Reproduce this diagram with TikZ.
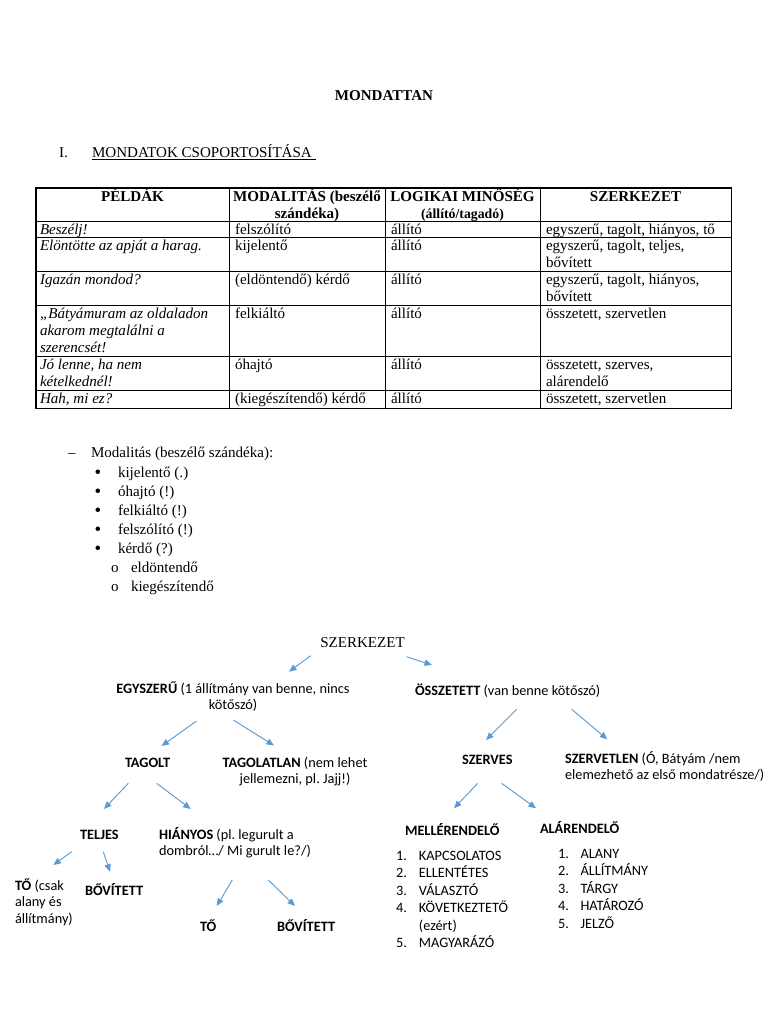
\documentclass[tikz,border=0pt]{standalone}
\usepackage{fontspec}
\setmainfont{Liberation Serif}
\newfontfamily\calfont{Carlito}
\usetikzlibrary{arrows.meta}
\definecolor{arrowblue}{RGB}{91,155,213}
\frenchspacing
\begin{document}
\frenchspacing
\begin{tikzpicture}[x=0.796875pt,y=-0.796875pt,
  tx/.style={inner sep=0pt,outer sep=0pt,anchor=base west},
  txc/.style={inner sep=0pt,outer sep=0pt,anchor=base},
  ser/.style={font=\fontsize{12}{13.8}\selectfont\frenchspacing},
  serit/.style={font=\fontsize{12}{13.8}\selectfont\itshape\frenchspacing},
  cal/.style={font=\calfont\fontsize{11.4}{13.5}\selectfont\frenchspacing},
  callist/.style={font=\calfont\fontsize{11.4}{14}\selectfont},
  calml/.style={cal,text width=260,align=flush left},
  sermlc/.style={ser,text width=200,align=flush center},
  sermll/.style={ser,text width=185,align=flush left},
  bulletmark/.style={inner sep=0pt,outer sep=0pt,anchor=base,font=\fontsize{15}{15}\selectfont},
  arr/.style={draw=arrowblue,line width=0.75pt,-{Triangle[length=6pt,width=5pt]}},
  grid/.style={draw=black,line width=0.8pt}]
\fill[white] (0,0) rectangle (768,1024);
\useasboundingbox (0,0) rectangle (768,1024);

% Title and heading
\node[txc,ser] (title) at (384,100.5) {\textbf{MONDATTAN}};
\node[tx,ser] (secnum) at (59,157.5) {I.};
\node[tx,ser] (sectitle) at (92,157.5) {\underline{MONDATOK CSOPORTOSÍTÁSA\ }};

% Table grid
\draw[grid] (36,188) rectangle (731,408);
\foreach \cx in {229,385,540} \draw[grid] (\cx,188) -- (\cx,408);
\foreach \ry in {221,237,271,305,356,390} \draw[grid] (36,\ry) -- (731,\ry);

% Header
\node[txc,ser] (h1) at (132.5,201) {\textbf{PÉLDÁK}};
\node[txc,sermlc] (h2) at (307,201) {\textbf{MODALITÁS (beszélő}\\\textbf{szándéka)}};
\node[txc,sermlc] (h3) at (462.5,201) {\textbf{LOGIKAI MINŐSÉG}\\{\fontsize{11}{13.8}\selectfont\textbf{(állító/tagadó)}}};
\node[txc,ser] (h4) at (635.5,201) {\textbf{SZERKEZET}};

% Rows
\node[tx,serit] (a1) at (40,234) {Beszélj!};
\node[tx,ser] (b1) at (235,234) {felszólító};
\node[tx,ser] (c1) at (391,234) {állító};
\node[tx,ser] (d1) at (546,234) {egyszerű, tagolt, hiányos, tő};

\node[tx,serit] (a2) at (40,250) {Elöntötte az apját a harag.};
\node[tx,ser] (b2) at (235,250) {kijelentő};
\node[tx,ser] (c2) at (391,250) {állító};
\node[tx,sermll] (d2) at (546,250) {egyszerű, tagolt, teljes,\\bővített};

\node[tx,serit] (a3) at (40,284) {Igazán mondod?};
\node[tx,ser] (b3) at (235,284) {(eldöntendő) kérdő};
\node[tx,ser] (c3) at (391,284) {állító};
\node[tx,sermll] (d3) at (546,284) {egyszerű, tagolt, hiányos,\\bővített};

\node[tx,serit,text width=185,align=flush left] (a4) at (40,318) {„Bátyámuram az oldaladon\\akarom megtalálni a\\szerencsét!};
\node[tx,ser] (b4) at (235,318) {felkiáltó};
\node[tx,ser] (c4) at (391,318) {állító};
\node[tx,ser] (d4) at (546,318) {összetett, szervetlen};

\node[tx,serit,text width=185,align=flush left] (a5) at (40,369) {Jó lenne, ha nem\\kételkednél!};
\node[tx,ser] (b5) at (235,369) {óhajtó};
\node[tx,ser] (c5) at (391,369) {állító};
\node[tx,sermll] (d5) at (546,369) {összetett, szerves,\\alárendelő};

\node[tx,serit] (a6) at (40,403) {Hah, mi ez?};
\node[tx,ser] (b6) at (235,403) {(kiegészítendő) kérdő};
\node[tx,ser] (c6) at (391,403) {állító};
\node[tx,ser] (d6) at (546,403) {összetett, szervetlen};

% List
\node[txc,ser] (dash) at (72,457) {–};
\node[tx,ser] (modal) at (91,457) {Modalitás (beszélő szándéka):};
\foreach \t/\yy [count=\i] in {kijelentő (.)/477, óhajtó (!)/496, felkiáltó (!)/515, felszólító (!)/534, kérdő (?)/553}{
  \node[bulletmark] (bul\i) at (98,\yy+1) {•};
  \node[tx,ser] (item\i) at (118,\yy) {\t};
}
\foreach \t/\yy [count=\i] in {eldöntendő/572, kiegészítendő/591}{
  \node[txc,ser] (sbul\i) at (115,\yy) {o};
  \node[tx,ser] (sitem\i) at (131,\yy) {\t};
}

% Diagram
\node[txc,ser] (szerk) at (362.5,647) {SZERKEZET};
\node[txc,cal,text width=300,align=flush center] (egy) at (233,693) {\textbf{EGYSZERŰ} (1 állítmány van benne, nincs\\kötőszó)};
\node[tx,cal] (ossz) at (415,695) {\textbf{ÖSSZETETT} (van benne kötőszó)};
\node[tx,cal] (tagolt) at (125,767) {\textbf{TAGOLT}};
\node[txc,cal,text width=200,align=flush center] (tagolatlan) at (295,767) {\textbf{TAGOLATLAN} (nem lehet\\jellemezni, pl.\ Jajj!)};
\node[tx,cal] (szerves) at (462,764) {\textbf{SZERVES}};
\node[tx,calml] (szervetlen) at (565,763) {\textbf{SZERVETLEN} (Ó, Bátyám /nem\\elemezhető az első mondatrésze/)};
\node[tx,cal] (teljes) at (80,839) {\textbf{TELJES}};
\node[tx,calml] (hianyos) at (159,839) {\textbf{HIÁNYOS} (pl.\ legurult a\\dombról…/ Mi gurult le?/)};
\node[tx,calml] (to1) at (15,890) {\textbf{TŐ} (csak\\alany és\\állítmány)};
\node[tx,cal] (bov1) at (85,895) {\textbf{BŐVÍTETT}};
\node[tx,cal] (to2) at (200,931) {\textbf{TŐ}};
\node[tx,cal] (bov2) at (277,931) {\textbf{BŐVÍTETT}};
\node[tx,cal] (mell) at (405,835) {\textbf{MELLÉRENDELŐ}};
\node[tx,cal] (alar) at (540,833) {\textbf{ALÁRENDELŐ}};

\node[tx,callist] (mlist) at (396,860) {%
  \begin{tabular}[t]{@{}p{18.3pt}@{}l@{}}
  1.&KAPCSOLATOS\\
  2.&ELLENTÉTES\\
  3.&VÁLASZTÓ\\
  4.&KÖVETKEZTETŐ\\
   &(ezért)\\
  5.&MAGYARÁZÓ
  \end{tabular}};
\node[tx,callist] (alist) at (558,858) {%
  \begin{tabular}[t]{@{}p{18pt}@{}l@{}}
  1.&ALANY\\
  2.&ÁLLÍTMÁNY\\
  3.&TÁRGY\\
  4.&HATÁROZÓ\\
  5.&JELZŐ
  \end{tabular}};

% Arrows
\draw[arr] ([shift={(-51.8,8.7)}]szerk.base) -- ([shift={(56,-21.3)}]egy.base);
\draw[arr] ([shift={(44,9.7)}]szerk.base) -- ([shift={(17,-30)}]ossz.base west);
\draw[arr] ([shift={(-36.5,28)}]egy.base) -- ([shift={(36.5,-21)}]tagolt.base west);
\draw[arr] ([shift={(0.3,27)}]egy.base) -- ([shift={(-21,-21.5)}]tagolatlan.base);
\draw[arr] ([shift={(101.7,14.3)}]ossz.base west) -- ([shift={(24,-24)}]szerves.base west);
\draw[arr] ([shift={(156.7,14.3)}]ossz.base west) -- ([shift={(42.3,-23.7)}]szervetlen.base west);
\draw[arr] ([shift={(3.3,16.3)}]tagolt.base west) -- ([shift={(24,-30)}]teljes.base west);
\draw[arr] ([shift={(31.7,16.3)}]tagolt.base west) -- ([shift={(31.7,-30)}]hianyos.base west);
\draw[arr] ([shift={(15.7,19.3)}]szerves.base west) -- ([shift={(49,-26.7)}]mell.base west);
\draw[arr] ([shift={(39.7,19.3)}]szerves.base west) -- ([shift={(-4,-24.7)}]alar.base west);
\draw[arr] ([shift={(-8.3,12.7)}]teljes.base west) -- ([shift={(38.3,-25)}]to1.base west);
\draw[arr] ([shift={(23.3,12.7)}]teljes.base west) -- ([shift={(25,-23.3)}]bov1.base west);
\draw[arr] ([shift={(73.3,41)}]hianyos.base west) -- ([shift={(16.7,-25)}]to2.base west);
\draw[arr] ([shift={(109.3,41)}]hianyos.base west) -- ([shift={(18,-25)}]bov2.base west);
\end{tikzpicture}
\end{document}
